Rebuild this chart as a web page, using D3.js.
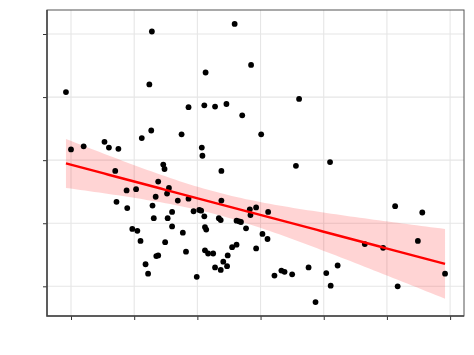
<!DOCTYPE html>
<html>
<head>
<meta charset="utf-8">
<script src="https://cdn.jsdelivr.net/npm/d3@7"></script>
<style>
  body { margin: 0; background: #fff; }
</style>
</head>
<body>
<div id="chart"></div>
<script>
// points
const xs = [-0.08, 1.28, 1.24, 1.27, 1.12, 0.00, 0.20, 0.53, 0.60, 0.75,
  0.70, 0.88, 1.03, 1.38, 0.72, 0.89, 1.34, 1.29, 1.31, 0.97,
  1.05, 1.10, 1.35, 1.38, 1.18, 1.22, 2.59, 2.85, 2.13, 3.61,
  1.86, 2.11, 2.28, 2.46, 2.71, 1.75, 3.01, 2.07, 2.08, 1.46,
  1.48, 2.38, 3.56, 1.55, 1.52, 1.69, 1.86, 2.38, 1.94, 2.03,
  2.06, 1.60, 2.83, 2.93, 3.12, 2.84, 1.53, 2.11, 2.34, 2.37,
  1.60, 2.12, 2.14, 2.62, 2.66, 2.69, 2.77, 1.77, 1.49, 3.03,
  3.11, 2.55, 2.62, 2.93, 2.12, 2.17, 2.25, 1.82, 2.48, 2.41,
  2.47, 2.28, 2.37, 1.99, 3.22, 3.33, 3.38, 3.50, 3.76, 3.87,
  4.10, 5.13, 5.56, 5.49, 4.65, 4.94, 5.92, 5.17, 4.04, 4.11, 4.22];
const ys = [3.08, 4.04, 3.20, 2.47, 2.35, 2.17, 2.22, 2.29, 2.20, 2.18,
  1.83, 1.52, 1.54, 1.66, 1.34, 1.24, 1.42, 1.28, 1.08, 0.91,
  0.88, 0.72, 0.48, 0.49, 0.35, 0.20, 4.16, 3.51, 3.39, 2.97,
  2.84, 2.87, 2.85, 2.89, 2.71, 2.41, 2.41, 2.20, 2.07, 1.93,
  1.86, 1.83, 1.91, 1.56, 1.47, 1.36, 1.39, 1.36, 1.19, 1.21,
  1.20, 1.18, 1.22, 1.25, 1.18, 1.13, 1.08, 1.11, 1.08, 1.05,
  0.95, 0.94, 0.90, 1.04, 1.03, 1.02, 0.92, 0.85, 0.70, 0.83,
  0.75, 0.62, 0.66, 0.60, 0.57, 0.52, 0.52, 0.55, 0.49, 0.39,
  0.32, 0.30, 0.26, 0.15, 0.17, 0.25, 0.23, 0.19, 0.30, -0.25,
  1.97, 1.27, 1.17, 0.72, 0.67, 0.61, 0.20, 0.00, 0.21, 0.01, 0.33];
const xTicks = [0, 1, 2, 3, 4, 5, 6];
const yTicks = [0, 1, 2, 3, 4];

const W = 474, H = 355;
const margin = { top: 10, right: 10, bottom: 39, left: 47 };
const width = W - margin.left - margin.right;
const height = H - margin.top - margin.bottom;

const svg = d3.select("#chart").append("svg")
  .attr("width", W).attr("height", H);
const g = svg.append("g")
  .attr("transform", `translate(${margin.left},${margin.top})`);

// ggplot style 5% expansion
function expand(ext) {
  const d = (ext[1] - ext[0]) * 0.05;
  return [ext[0] - d, ext[1] + d];
}
const x = d3.scaleLinear().domain(expand(d3.extent(xs))).range([0, width]);
const y = d3.scaleLinear().domain(expand(d3.extent(ys))).range([height, 0]);

// grid
g.append("g").selectAll("line").data(xTicks).join("line")
  .attr("x1", d => x(d)).attr("x2", d => x(d))
  .attr("y1", 0).attr("y2", height)
  .attr("stroke", "#e6e6e6").attr("stroke-width", 1.1);
g.append("g").selectAll("line").data(yTicks).join("line")
  .attr("y1", d => y(d)).attr("y2", d => y(d))
  .attr("x1", 0).attr("x2", width)
  .attr("stroke", "#e6e6e6").attr("stroke-width", 1.1);

// linear fit with 95% band
const n = xs.length;
const mx = d3.mean(xs), my = d3.mean(ys);
let sxx = 0, sxy = 0;
for (let i = 0; i < n; i++) {
  sxx += (xs[i] - mx) ** 2;
  sxy += (xs[i] - mx) * (ys[i] - my);
}
const b = sxy / sxx, a = my - b * mx;
let sse = 0;
for (let i = 0; i < n; i++) sse += (ys[i] - a - b * xs[i]) ** 2;
const s = Math.sqrt(sse / (n - 2));
const tq = 1.984;
const [x0, x1] = d3.extent(xs);
const fit = d3.range(81).map(i => {
  const xv = x0 + (x1 - x0) * i / 80;
  const yv = a + b * xv;
  const se = s * Math.sqrt(1 / n + (xv - mx) ** 2 / sxx);
  return { x: xv, y: yv, lo: yv - tq * se, hi: yv + tq * se };
});

g.append("path").datum(fit)
  .attr("fill", "red").attr("fill-opacity", 0.17)
  .attr("d", d3.area().x(d => x(d.x)).y0(d => y(d.lo)).y1(d => y(d.hi)));

// points
g.append("g").selectAll("circle").data(xs).join("circle")
  .attr("cx", (d, i) => x(d)).attr("cy", (d, i) => y(ys[i]))
  .attr("r", 2.9).attr("fill", "#000");

g.append("path").datum(fit)
  .attr("fill", "none").attr("stroke", "#ff0000").attr("stroke-width", 2.4)
  .attr("d", d3.line().x(d => x(d.x)).y(d => y(d.y)));

// axes, ticks only
const xAxis = g.append("g").attr("transform", `translate(0,${height})`)
  .call(d3.axisBottom(x).tickValues(xTicks).tickSize(4).tickFormat(""));
const yAxis = g.append("g")
  .call(d3.axisLeft(y).tickValues(yTicks).tickSize(4).tickFormat(""));
xAxis.select(".domain").remove();
yAxis.select(".domain").remove();
xAxis.selectAll("line").attr("stroke", "#333");
yAxis.selectAll("line").attr("stroke", "#333");

// panel border
g.append("rect").attr("width", width).attr("height", height)
  .attr("fill", "none").attr("stroke", "#555").attr("stroke-width", 1);
g.append("path")
  .attr("d", `M0,0V${height}H${width}`)
  .attr("fill", "none").attr("stroke", "#444").attr("stroke-width", 1.5);
</script>
</body>
</html>
